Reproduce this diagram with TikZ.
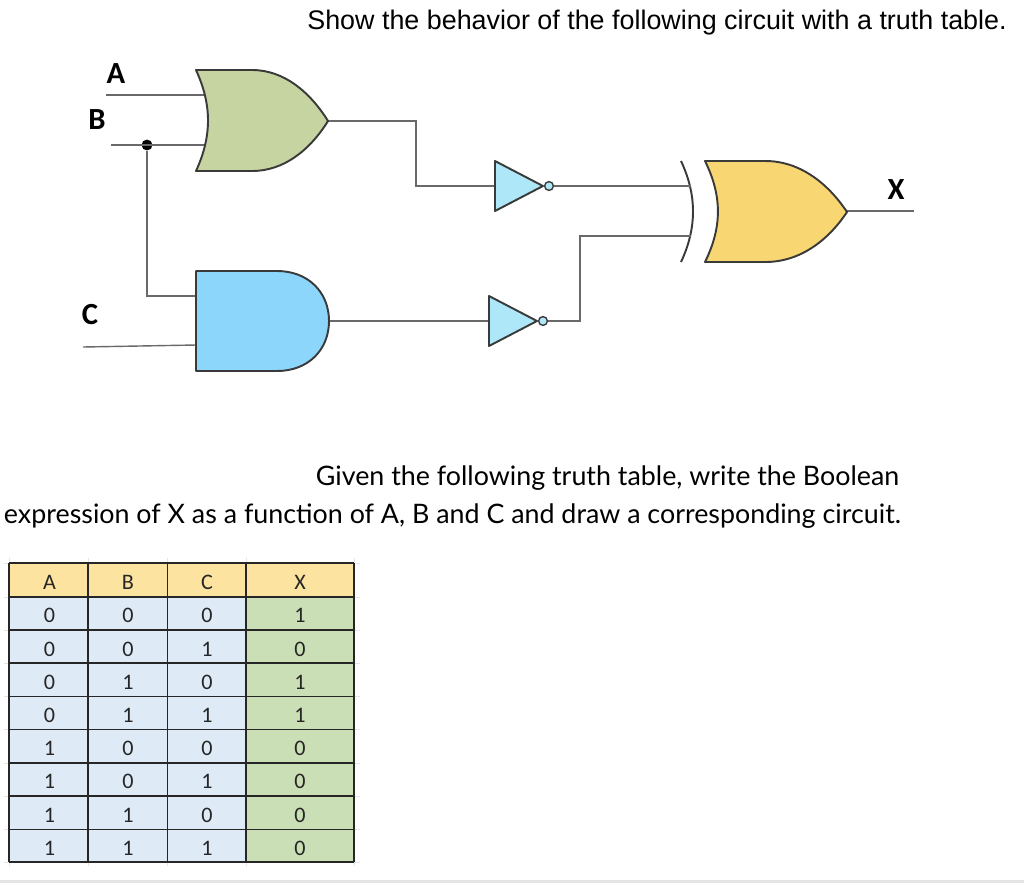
\documentclass[tikz,border=0pt]{standalone}
\usepackage{fontspec}
\setmainfont{Liberation Sans}
\newfontfamily\latofont{Lato}
\newfontfamily\carlitofont{Carlito}
\usepackage{tikz}
\usetikzlibrary{calc}
\definecolor{orGreen}{RGB}{198,212,162}
\definecolor{andBlue}{RGB}{141,214,251}
\definecolor{notBlue}{RGB}{174,232,248}
\definecolor{xorYellow}{RGB}{248,214,114}
\definecolor{headYellow}{RGB}{252,228,160}
\definecolor{cellBlue}{RGB}{222,234,246}
\definecolor{cellGreen}{RGB}{203,223,182}
\definecolor{wireGray}{RGB}{105,105,105}
\definecolor{gateEdge}{RGB}{58,58,58}
\tikzset{
  wire/.style={draw=wireGray,line width=0.8pt},
  gate/.style={draw=gateEdge,line width=1.1pt,line join=round},
  title/.style={inner sep=0pt,font=\fontsize{15.3}{18}\selectfont},
  question/.style={inner sep=0pt,font=\latofont\fontsize{15.27}{18}\selectfont},
  pinlabel/.style={inner sep=0pt,font=\carlitofont\bfseries\fontsize{17.5}{20}\selectfont},
  cell/.style={inner sep=0pt,font=\carlitofont\fontsize{12.6}{15}\selectfont,text=black!85},
}
\begin{document}
\begin{tikzpicture}[x=0.02cm,y=-0.02cm]

  \newcommand{\orgate}[3]{\begin{scope}[shift={(#1)},xscale=#3]
    \draw[gate,fill=#2] (0,0) -- (56,0) .. controls (88,0) and (114,22) .. (132,51)
      .. controls (114,80) and (88,101) .. (56,101) -- (0,101)
      .. controls (16,66) and (16,35) .. cycle;
  \end{scope}}
  \newcommand{\notgate}[2]{\draw[gate,fill=notBlue] (#1) -- ++(48,25) -- ++(-48,25) -- cycle;
    \node[circle,draw=gateEdge,fill=notBlue,line width=0.8pt,minimum size=5pt,inner sep=0pt] (#2) at ($(#1)+(54,25)$) {};}

  \path[use as bounding box] (0,0) rectangle (1024,883);
  \fill[black!10] (0,880) rectangle (1024,883);

  \node[title] (question1) at (657,22.5) {Show the behavior of the following circuit with a truth table.};
  \node[question] (question2a) at (607.5,478) {Given the following truth table, write the Boolean};
  \node[question] (question2b) at (452.5,516.5) {expression of X as a function of A, B and C and draw a corresponding circuit.};

  \begin{scope}
    \coordinate (orCorner) at (196,70);
    \coordinate (orOut) at (328,121);
    \coordinate (orA) at (205,95);
    \coordinate (orB) at (205,145);
    \coordinate (inA) at (106,95);
    \coordinate (inB) at (111,145);
    \coordinate (inC) at (83,347);
    \coordinate (andA) at (196,296);
    \coordinate (andB) at (196,345);
    \coordinate (andOut) at (329,321);
    \coordinate (not1In) at (495,186);
    \coordinate (not2In) at (489,321);
    \coordinate (not1Corner) at (495,161);
    \coordinate (not2Corner) at (489,296);
    \coordinate (xorCorner) at (705,161);
    \coordinate (xorA) at (691,186);
    \coordinate (xorB) at (691,236);
    \coordinate (xorOut) at (847,211);
    \coordinate (outX) at (914,211);

    \node[circle,fill=black,minimum size=6.2pt,inner sep=0pt] (dotB) at (147,145) {};

    \draw[wire] (inA) -- (orA);
    \draw[wire] (inB) -- (orB);
    \draw[wire] (dotB) -- (147,296) -- (andA);
    \draw[wire] (inC) -- (andB);
    \draw[wire] (orOut) -- (416,121) -- (416,186) -- (not1In);
    \draw[wire] (andOut) -- (not2In);
    \draw[wire] (xorOut) -- (outX);

    \orgate{orCorner}{orGreen}{1}
    \draw[gate,fill=andBlue] (196,271) -- (277,271) .. controls (308,271) and (329,292) .. (329,321)
      .. controls (329,350) and (308,371) .. (277,371) -- (196,371) -- cycle;
    \notgate{not1Corner}{bubble1}
    \notgate{not2Corner}{bubble2}
    \orgate{xorCorner}{xorYellow}{1.076}
    \draw[gate] (681,161) .. controls (697,195) and (697,228) .. (681,262);

    \draw[wire] (bubble1) -- (xorA);
    \draw[wire] (bubble2) -- (580,321) -- (580,236) -- (xorB);

    \node[pinlabel] (labelA) at (116,74) {A};
    \node[pinlabel] (labelB) at (97,120) {B};
    \node[pinlabel] (labelC) at (90,315) {C};
    \node[pinlabel] (labelX) at (896,190) {X};
  \end{scope}

  \begin{scope}
    \fill[headYellow] (9,563) rectangle (354,597);
    \fill[cellBlue] (9,597) rectangle (246,862);
    \fill[cellGreen] (246,597) rectangle (354,862);
    \foreach \ypos in {563,597,630,663,696.5,729.5,763,796,829.5,862}
      \draw[black!10,line width=0.5pt] (4,\ypos) -- (360,\ypos);
    \foreach \xpos in {9,88,167.5,246,354}
      \draw[black!10,line width=0.5pt] (\xpos,558) -- (\xpos,866);
    \foreach \ypos in {563,597,630,663,696.5,729.5,763,796,829.5,862}
      \draw[black!85,line width=0.75pt] (9,\ypos) -- (354,\ypos);
    \foreach \xpos in {9,88,167.5,246,354}
      \draw[black!85,line width=0.75pt] (\xpos,563) -- (\xpos,862);
    \foreach \a/\b/\c/\x [count=\row from 0] in {A/B/C/X,0/0/0/1,0/0/1/0,0/1/0/1,0/1/1/1,1/0/0/0,1/0/1/0,1/1/0/0,1/1/1/0} {
      \node[cell] (a\row) at (49.5,582.5+33.2*\row) {\a};
      \node[cell] (b\row) at (128,582.5+33.2*\row) {\b};
      \node[cell] (c\row) at (207,582.5+33.2*\row) {\c};
      \node[cell] (x\row) at (300,582.5+33.2*\row) {\x};
    }
  \end{scope}

\end{tikzpicture}
\end{document}
